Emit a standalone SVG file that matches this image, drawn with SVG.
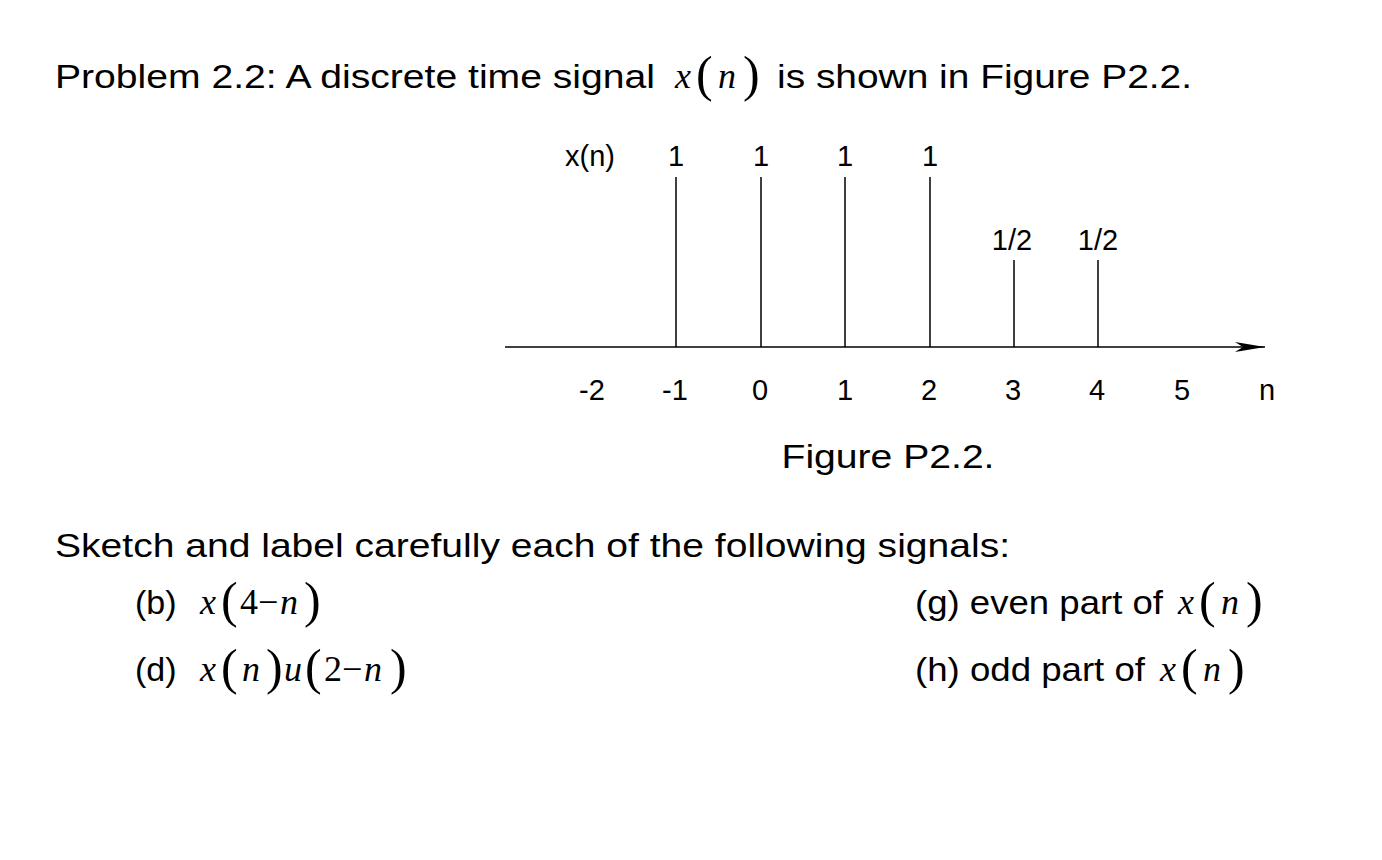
<svg xmlns="http://www.w3.org/2000/svg" width="1382" height="860" viewBox="0 0 1382 860">
<defs>
<marker id="ah" markerWidth="30" markerHeight="10" refX="30" refY="5" orient="auto" markerUnits="userSpaceOnUse"><path d="M0,0 L30,5 L0,10 L8,5 Z" fill="#000"/></marker>
<style>
.t{font-family:"Liberation Sans",Arial,sans-serif;font-size:34px;fill:#000}
.s{font-family:"Liberation Sans",Arial,sans-serif;font-size:29px;fill:#000}
.m{font-family:"Liberation Serif","Times New Roman",serif;font-size:36px;font-style:italic;fill:#000}
.r{font-style:normal}
.p{font-style:normal;font-size:50px}
.st{stroke:#000;stroke-width:1.5}
</style>
</defs>
<rect width="1382" height="860" fill="#fff"/>
<text class="t" x="55" y="88" textLength="600" lengthAdjust="spacingAndGlyphs">Problem 2.2: A discrete time signal</text>
<text class="m" y="88"><tspan x="675">x</tspan><tspan class="p" x="696" dy="3">(</tspan><tspan x="718" dy="-3">n</tspan><tspan class="p" x="743" dy="3">)</tspan></text>
<text class="t" x="777" y="88" textLength="415" lengthAdjust="spacingAndGlyphs">is shown in Figure P2.2.</text>
<g id="axis">
<line class="st" x1="505" y1="347" x2="1265" y2="347" marker-end="url(#ah)"/>
</g>
<g id="stems">
<line class="st" x1="676" y1="177" x2="676" y2="347"/>
<line class="st" x1="761" y1="177" x2="761" y2="347"/>
<line class="st" x1="845" y1="177" x2="845" y2="347"/>
<line class="st" x1="930" y1="177" x2="930" y2="347"/>
<line class="st" x1="1014" y1="260" x2="1014" y2="347"/>
<line class="st" x1="1098" y1="260" x2="1098" y2="347"/>
</g>
<g id="labels" text-anchor="middle">
<text class="s" x="590" y="166">x(n)</text>
<text class="s" x="676" y="166">1</text>
<text class="s" x="761" y="166">1</text>
<text class="s" x="845" y="166">1</text>
<text class="s" x="930" y="166">1</text>
<text class="s" x="1012" y="250">1/2</text>
<text class="s" x="1098" y="250">1/2</text>
<text class="s" x="592" y="400">-2</text>
<text class="s" x="675" y="400">-1</text>
<text class="s" x="760" y="400">0</text>
<text class="s" x="845" y="400">1</text>
<text class="s" x="929" y="400">2</text>
<text class="s" x="1013" y="400">3</text>
<text class="s" x="1097" y="400">4</text>
<text class="s" x="1182" y="400">5</text>
<text class="s" x="1267" y="400">n</text>
<text class="t" x="888" y="468" textLength="213" lengthAdjust="spacingAndGlyphs">Figure P2.2.</text>
</g>
<text class="t" x="55" y="557" textLength="955" lengthAdjust="spacingAndGlyphs">Sketch and label carefully each of the following signals:</text>
<text class="t" x="135" y="614">(b)</text>
<text class="m" y="614"><tspan x="200">x</tspan><tspan class="p" x="221" dy="3">(</tspan><tspan class="r" x="240" dy="-3">4</tspan><tspan class="r" x="258">−</tspan><tspan x="280">n</tspan><tspan class="p" x="304" dy="3">)</tspan></text>
<text class="t" x="135" y="681">(d)</text>
<text class="m" y="681"><tspan x="200">x</tspan><tspan class="p" x="221" dy="3">(</tspan><tspan x="242" dy="-3">n</tspan><tspan class="p" x="266" dy="3">)</tspan><tspan x="284" dy="-3">u</tspan><tspan class="p" x="305" dy="3">(</tspan><tspan class="r" x="324" dy="-3">2</tspan><tspan class="r" x="342">−</tspan><tspan x="364">n</tspan><tspan class="p" x="390" dy="3">)</tspan></text>
<text class="t" x="915" y="614" textLength="248" lengthAdjust="spacingAndGlyphs">(g) even part of</text>
<text class="m" y="614"><tspan x="1178">x</tspan><tspan class="p" x="1199" dy="3">(</tspan><tspan x="1221" dy="-3">n</tspan><tspan class="p" x="1246" dy="3">)</tspan></text>
<text class="t" x="915" y="681" textLength="230" lengthAdjust="spacingAndGlyphs">(h) odd part of</text>
<text class="m" y="681"><tspan x="1160">x</tspan><tspan class="p" x="1181" dy="3">(</tspan><tspan x="1203" dy="-3">n</tspan><tspan class="p" x="1228" dy="3">)</tspan></text>
</svg>
